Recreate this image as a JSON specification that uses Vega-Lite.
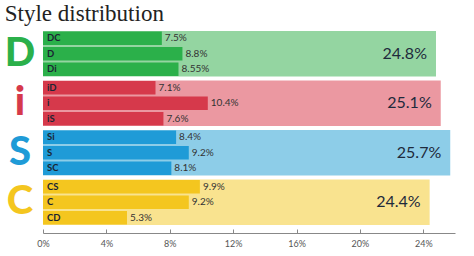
{
  "$schema": "https://vega.github.io/schema/vega-lite/v6.json",
  "padding": {"left": 4, "top": 3, "right": 6, "bottom": 4},
  "bounds": "flush",
  "title": {"text": "Style distribution", "anchor": "start", "frame": "bounds", "font": "Liberation Serif", "fontSize": 23, "fontWeight": "normal", "color": "#222222", "offset": 5},
  "data": {"values": [
    {"group": "D", "sub": "DC", "value": 0.075, "total": 0.248},
    {"group": "D", "sub": "D", "value": 0.088, "total": 0.248},
    {"group": "D", "sub": "Di", "value": 0.0855, "total": 0.248},
    {"group": "i", "sub": "iD", "value": 0.071, "total": 0.251},
    {"group": "i", "sub": "i", "value": 0.104, "total": 0.251},
    {"group": "i", "sub": "iS", "value": 0.076, "total": 0.251},
    {"group": "S", "sub": "Si", "value": 0.084, "total": 0.257},
    {"group": "S", "sub": "S", "value": 0.092, "total": 0.257},
    {"group": "S", "sub": "SC", "value": 0.081, "total": 0.257},
    {"group": "C", "sub": "CS", "value": 0.099, "total": 0.244},
    {"group": "C", "sub": "C", "value": 0.092, "total": 0.244},
    {"group": "C", "sub": "CD", "value": 0.053, "total": 0.244}
  ]},
  "facet": {"row": {"field": "group", "type": "nominal", "sort": ["D", "i", "S", "C"], "header": {"title": null, "labels": false}}},
  "spacing": 3.5,
  "resolve": {"scale": {"y": "independent"}},
  "spec": {
    "width": 412,
    "height": 45.5,
    "layer": [
      {
        "transform": [{"aggregate": [{"op": "max", "field": "total", "as": "total"}], "groupby": ["group"]}],
        "mark": {"type": "rect"},
        "encoding": {
          "x": {"field": "total", "type": "quantitative", "scale": {"domain": [0, 0.26], "nice": false, "zero": true}, "axis": {"values": [0, 0.02, 0.04, 0.06, 0.08, 0.1, 0.12, 0.14, 0.16, 0.18, 0.2, 0.22, 0.24, 0.26], "format": ".0%", "title": null, "grid": false, "offset": 8, "domainColor": "#888888", "tickColor": "#888888", "tickSize": -4, "labelPadding": 10, "labelFont": "Lato", "labelFontSize": 9, "labelColor": "#555555", "labelOverlap": false, "labelSeparation": 0, "labelBound": false, "labelFlush": false}},
          "x2": {"datum": 0},
          "y": {"value": 0},
          "y2": {"value": "height"},
          "fill": {"field": "group", "type": "nominal", "scale": {"domain": ["D", "i", "S", "C"], "range": ["#94d5a1", "#eb98a1", "#8dcde8", "#f9e38f"]}, "legend": null}
        }
      },
      {
        "mark": {"type": "bar"},
        "encoding": {
          "y": {"field": "sub", "type": "nominal", "sort": null, "axis": null, "scale": {"paddingInner": 0.12, "paddingOuter": 0.03}},
          "x": {"field": "value", "type": "quantitative"},
          "color": {"field": "group", "type": "nominal", "scale": {"domain": ["D", "i", "S", "C"], "range": ["#2bb04a", "#d6394b", "#1f9bd7", "#f4c61f"]}, "legend": null}
        }
      },
      {
        "mark": {"type": "text", "align": "left", "baseline": "middle", "dx": 4, "font": "Lato", "fontWeight": "bold", "fontSize": 9.5, "color": "#1b2533"},
        "encoding": {
          "y": {"field": "sub", "type": "nominal", "sort": null},
          "x": {"datum": 0, "type": "quantitative"},
          "text": {"field": "sub"}
        }
      },
      {
        "mark": {"type": "text", "align": "left", "baseline": "middle", "dx": 3, "font": "Lato", "fontSize": 10, "color": "#333333"},
        "encoding": {
          "y": {"field": "sub", "type": "nominal", "sort": null},
          "x": {"field": "value", "type": "quantitative"},
          "text": {"field": "value", "format": ".2~%"}
        }
      },
      {
        "transform": [{"aggregate": [{"op": "max", "field": "total", "as": "total"}], "groupby": ["group"]}],
        "mark": {"type": "text", "align": "right", "baseline": "middle", "dx": -9, "font": "Lato", "fontSize": 16, "color": "#1e2a3c"},
        "encoding": {
          "x": {"field": "total", "type": "quantitative"},
          "text": {"field": "total", "format": ".1%"}
        }
      },
      {
        "transform": [{"aggregate": [{"op": "max", "field": "total", "as": "total"}], "groupby": ["group"]}],
        "mark": {"type": "text", "align": "center", "baseline": "middle", "font": "Lato", "fontWeight": 900, "fontSize": 40},
        "encoding": {
          "x": {"datum": -0.0145, "type": "quantitative"},
          "text": {"field": "group"},
          "color": {"field": "group", "type": "nominal", "legend": null}
        }
      }
    ]
  },
  "config": {"view": {"stroke": null}, "axis": {"labelOverlap": false}, "axisX": {"labelOverlap": false}, "axisQuantitative": {"labelOverlap": false}}
}
